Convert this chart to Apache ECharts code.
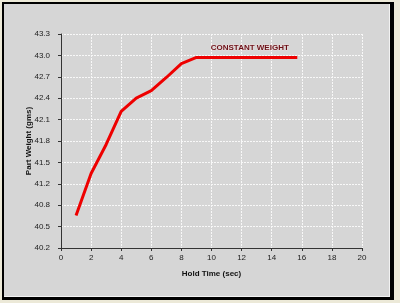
<!DOCTYPE html>
<html>
<head>
<meta charset="utf-8">
<script src="https://cdn.jsdelivr.net/npm/echarts@6/dist/echarts.min.js"></script>
<style>
html,body{margin:0;padding:0;background:#ece9d8;}
#chart{width:400px;height:303px;}
</style>
</head>
<body>
<div id="chart"></div>
<script>
// Data
const holdTime = [1, 2, 3, 4, 5, 6, 7, 8, 9, 15.7];
const partWeight = [40.67, 41.28, 41.70, 42.18, 42.37, 42.48, 42.67, 42.87, 42.96, 42.96];
const yTickLabels = ['40.2','40.5','40.8','41.2','41.5','41.8','42.1','42.4','42.7','43.0','43.3'];
const xTickLabels = ['0','2','4','6','8','10','12','14','16','18','20'];
const annotationText = 'CONSTANT WEIGHT';
const annotationPos = [9.95, 43.1];

const yMin = 40.2, yMax = 43.3;
const yStep = (yMax - yMin) / (yTickLabels.length - 1);
const yTickValues = yTickLabels.map((_, i) => +(yMin + i * yStep).toFixed(4));

const chart = echarts.init(document.getElementById('chart'), null, {renderer: 'canvas'});
const font = 'Liberation Sans, Arial, sans-serif';

chart.setOption({
  animation: false,
  backgroundColor: '#ece9d8',
  graphic: [
    {type: 'rect', z: -10, shape: {x: 2, y: 2, width: 392, height: 298}, style: {fill: '#000'}},
    {type: 'rect', z: -9, shape: {x: 4, y: 4, width: 386, height: 293}, style: {fill: '#f2f2f2'}},
    {type: 'rect', z: -8, shape: {x: 4, y: 4, width: 385, height: 292}, style: {fill: '#d6d6d6'}}
  ],
  grid: {left: 61, right: 38, top: 34, bottom: 55, containLabel: false},
  xAxis: {
    type: 'value', min: 0, max: 20, interval: 2,
    name: 'Hold Time (sec)', nameLocation: 'middle', nameGap: 22, nameMoveOverlap: false,
    nameTextStyle: {fontFamily: font, fontWeight: 'bold', fontSize: 8, color: '#111'},
    axisLine: {show: true, lineStyle: {color: '#333', width: 1}},
    axisTick: {show: true, length: 3, inside: false, lineStyle: {color: '#333'}},
    axisLabel: {fontFamily: font, fontSize: 8, color: '#222', margin: 6,
      formatter: v => xTickLabels[Math.round(v / 2)]},
    splitLine: {show: true, lineStyle: {color: '#f8f8f8', width: 1, type: [2, 1]}}
  },
  yAxis: {
    type: 'value', min: yMin, max: yMax,
    name: 'Part Weight (gms)', nameLocation: 'middle', nameGap: 28, nameMoveOverlap: false,
    nameTextStyle: {fontFamily: font, fontWeight: 'bold', fontSize: 8, color: '#111'},
    axisLine: {show: true, lineStyle: {color: '#333', width: 1}},
    axisTick: {show: true, length: 3, inside: false, customValues: yTickValues, lineStyle: {color: '#333'}},
    axisLabel: {fontFamily: font, fontSize: 8, color: '#222', margin: 11, customValues: yTickValues,
      formatter: v => yTickLabels[Math.round((v - yMin) / yStep)]},
    splitLine: {show: true, lineStyle: {color: '#f8f8f8', width: 1, type: [2, 1]}}
  },
  series: [{
    type: 'line',
    data: holdTime.map((x, i) => [x, partWeight[i]]),
    symbol: 'none',
    lineStyle: {color: '#ee0000', width: 3},
    z: 5,
    markPoint: {
      symbol: 'rect', symbolSize: 0,
      label: {show: true, formatter: annotationText, fontFamily: font, fontWeight: 'bold',
        fontSize: 8, color: '#6a0f16', position: 'right', distance: 0,
        textBorderColor: 'rgba(255,230,230,0.5)', textBorderWidth: 1},
      data: [{coord: annotationPos}]
    }
  }]
});
</script>
</body>
</html>
